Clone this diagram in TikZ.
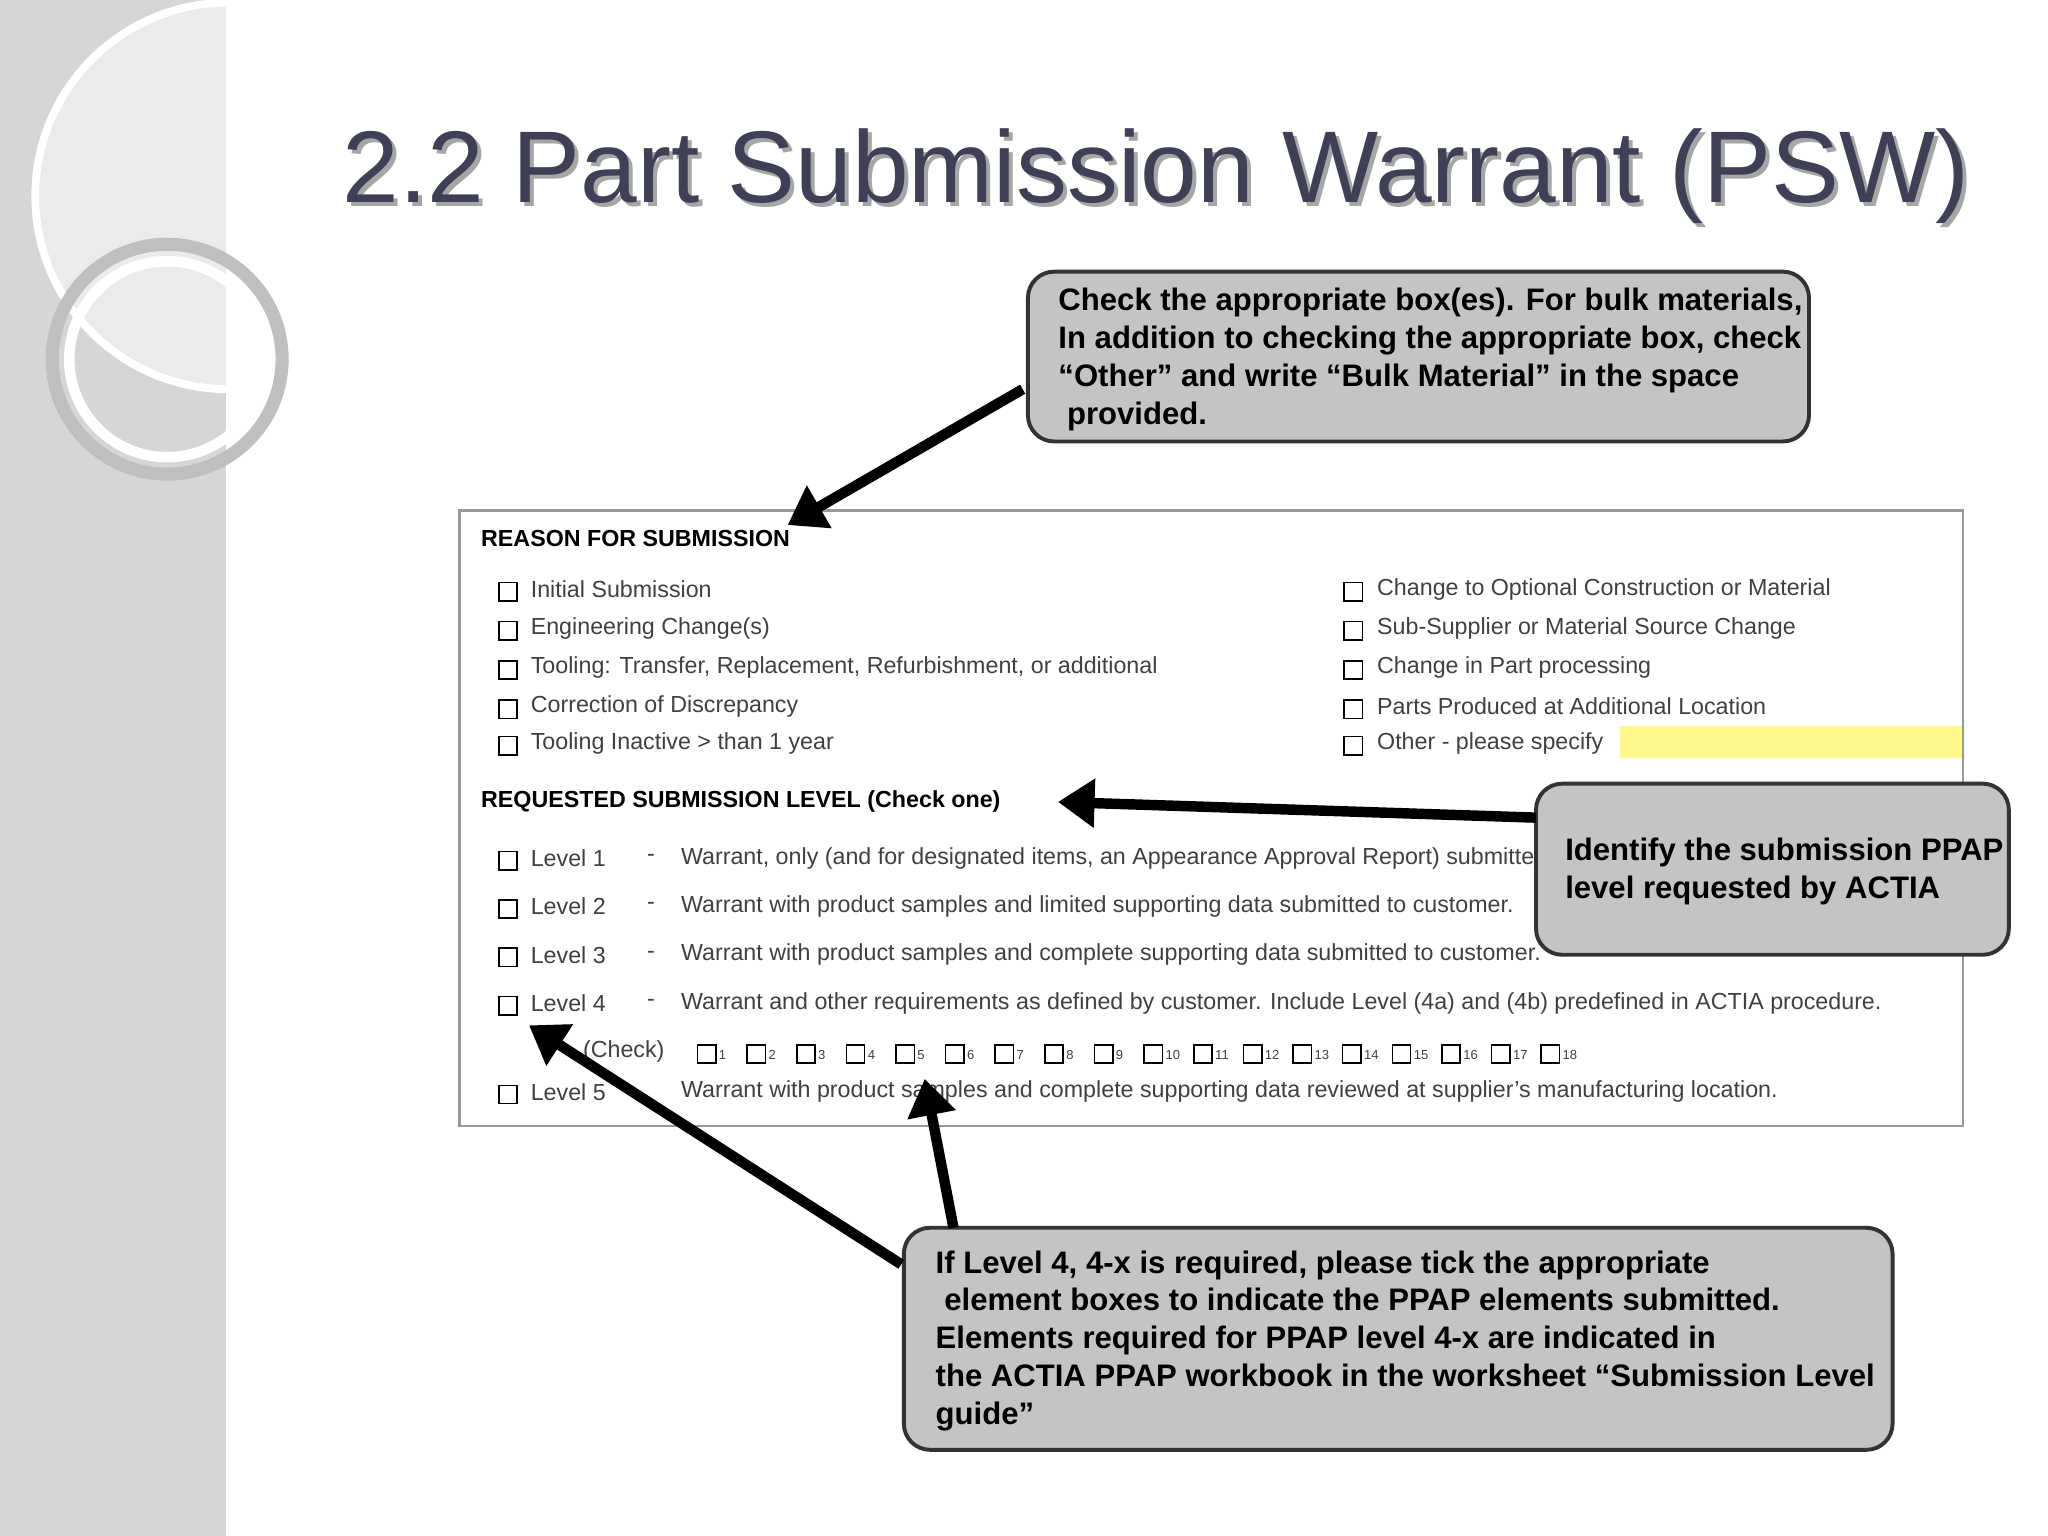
\documentclass[tikz,border=0pt]{standalone}
\usepackage{fontspec}
\setmainfont{Liberation Sans}
\usetikzlibrary{arrows.meta}
\definecolor{strip}{HTML}{D6D6D6}
\definecolor{titlec}{HTML}{3F3F55}
\definecolor{callout}{HTML}{C4C4C4}
\definecolor{formtxt}{HTML}{404040}
\tikzset{
 cb/.style={draw=black,line width=0.6pt,minimum size=7pt,inner sep=0pt},
 cbs/.style={draw=black,line width=0.6pt,minimum size=7pt,inner sep=0pt},
 ft/.style={anchor=west,inner sep=0pt,font=\fontsize{8.9}{10}\selectfont,text=formtxt},
 fh/.style={anchor=west,inner sep=0pt,font=\fontsize{8.9}{10}\selectfont\bfseries,text=black},
 sn/.style={anchor=west,inner sep=0pt,font=\fontsize{5}{6}\selectfont,text=formtxt},
 co/.style={draw=black!80,line width=1.5pt,fill=callout,rounded corners=10pt},
 ct/.style={anchor=north west,align=left,inner sep=0pt,font=\fontsize{11.9}{14.5}\selectfont\bfseries},
 arr/.style={line width=4pt,-{Triangle[length=14pt,width=18pt]}}
}
\begin{document}
\begin{tikzpicture}[x=0.5pt,y=-0.5pt]
\useasboundingbox (0,0) rectangle (1568,1176);
\fill[white] (0,0) rectangle (1568,1176);
\fill[strip] (0,0) rectangle (173,1176);
\begin{scope}
\clip (0,0) rectangle (173,1176);
\fill[black!8] (175,150) circle (148);
\end{scope}
\draw[white,line width=3pt] (175,150) circle (148);
\draw[black!25,line width=5pt] (128,275) circle (88);
\draw[white,line width=4pt] (128,275) circle (75);
% title
\node[anchor=base west,inner sep=0pt,text=black!35,font=\fontsize{39}{45}\selectfont] at (265,158) {2.2 Part Submission Warrant (PSW)};
\node[anchor=base west,inner sep=0pt,text=titlec,font=\fontsize{39}{45}\selectfont] (title) at (262,155) {2.2 Part Submission Warrant (PSW)};
% form
\draw[black!40,line width=1pt] (352,391) rectangle (1503,862);
\node[fh] (h1) at (368,412) {REASON FOR SUBMISSION};
\foreach \y/\t [count=\i] in {451/Initial Submission,481/Engineering Change(s),511/{Tooling: Transfer, Replacement, Refurbishment, or additional},541/Correction of Discrepancy,569/Tooling Inactive > than 1 year}{
 \node[cb] (l\i) at (389,\y+2) {};
 \node[ft] (lt\i) at (406,\y) {\t};}
\foreach \y/\t [count=\i] in {451/Change to Optional Construction or Material,481/Sub-Supplier or Material Source Change,511/Change in Part processing,541/Parts Produced at Additional Location,569/Other - please specify}{
 \node[cb] (r\i) at (1036,\y+2) {};
 \node[ft] (rt\i) at (1054,\y) {\t};}
\fill[yellow!45] (1240,556) rectangle (1502,580);
\node[fh] (h2) at (368,614) {REQUESTED SUBMISSION LEVEL (Check one)};
\foreach \y/\n/\t in {657/1/{Warrant, only (and for designated items, an Appearance Approval Report) submitte},694/2/Warrant with product samples and limited supporting data submitted to customer.,731/3/Warrant with product samples and complete supporting data submitted to customer.,768/4/{Warrant and other requirements as defined by customer. Include Level (4a) and (4b) predefined in ACTIA procedure.},836/5/Warrant with product samples and complete supporting data reviewed at supplier's manufacturing location.}{
 \node[cb] (lv\n) at (389,\y+2) {};
 \node[ft] (lvt\n) at (406,\y) {Level \n};
 \node[ft] (lvd\n) at (521,\y) {\t};}
\foreach \y in {657,694,731,768}{\node[ft] at (495,\y) {-};}
\node[ft] (chk) at (446,805) {(Check)};
\foreach \i in {1,...,18}{
 \node[cbs] (e\i) at ({541+(\i-1)*38},807) {};
 \node[sn] at ({550+(\i-1)*38},808) {\i};}
% callouts
\draw[co] (787,208) rectangle (1385,338);
\node[ct] (c1) at (810,220) {Check the appropriate box(es). For bulk materials,\\In addition to checking the appropriate box, check\\“Other” and write “Bulk Material” in the space\\\ provided.};
\draw[co] (1176,600) rectangle (1538,731);
\node[ct] (c2) at (1198,641) {Identify the submission PPAP\\level requested by ACTIA};
\draw[co] (692,940) rectangle (1449,1110);
\node[ct] (c3) at (716,957) {If Level 4, 4-x is required, please tick the appropriate\\\ element boxes to indicate the PPAP elements submitted.\\Elements required for PPAP level 4-x are indicated in\\the ACTIA PPAP workbook in the worksheet “Submission Level\\guide”};
\coordinate (a1s) at (783,298); \coordinate (a1e) at (603,402);
\coordinate (a2s) at (1176,626); \coordinate (a2e) at (810,614);
\coordinate (a3s) at (690,968); \coordinate (a3e) at (405,785);
\coordinate (a4s) at (730,940); \coordinate (a4e) at (708,826);
\draw[arr] (a1s) -- (a1e);
\draw[arr] (a2s) -- (a2e);
\draw[arr] (a3s) -- (a3e);
\draw[arr] (a4s) -- (a4e);
\end{tikzpicture}
\end{document}
